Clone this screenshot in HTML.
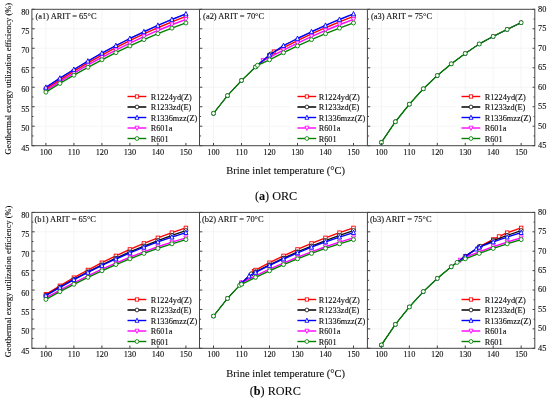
<!DOCTYPE html>
<html lang="en"><head><meta charset="utf-8"><title>Geothermal exergy utilization efficiency</title>
<style>html,body{margin:0;padding:0;background:#fff}svg{display:block}text{stroke:#0a0a0a;stroke-width:.1px}</style></head>
<body>
<svg width="550" height="401" viewBox="0 0 550 401" font-family="'Liberation Serif', 'Times New Roman', serif" font-size="8.3" fill="#0a0a0a">
<rect width="550" height="401" fill="#fff"/>
<path d="M45.90 9.3V145.7M73.90 9.3V145.7M101.90 9.3V145.7M129.90 9.3V145.7M157.90 9.3V145.7M185.90 9.3V145.7M31.90 126.21H199.90M31.90 106.73H199.90M31.90 87.24H199.90M31.90 67.76H199.90M31.90 48.27H199.90M31.90 28.79H199.90" stroke="#f4f4f4" stroke-width="0.9" fill="none"/>
<path d="M45.90 88.84L59.90 79.81L73.90 71.18L87.90 62.94L101.90 55.11L115.90 47.67L129.90 40.63L143.90 33.98L157.90 27.73L171.90 21.88L185.90 16.43" stroke="#ff0000" stroke-width="1.4" fill="none" stroke-linejoin="round"/>
<rect x="44.15" y="87.09" width="3.5" height="3.5" fill="#fff" stroke="#ff0000" stroke-width="0.9"/>
<rect x="58.15" y="78.06" width="3.5" height="3.5" fill="#fff" stroke="#ff0000" stroke-width="0.9"/>
<rect x="72.15" y="69.43" width="3.5" height="3.5" fill="#fff" stroke="#ff0000" stroke-width="0.9"/>
<rect x="86.15" y="61.19" width="3.5" height="3.5" fill="#fff" stroke="#ff0000" stroke-width="0.9"/>
<rect x="100.15" y="53.36" width="3.5" height="3.5" fill="#fff" stroke="#ff0000" stroke-width="0.9"/>
<rect x="114.15" y="45.92" width="3.5" height="3.5" fill="#fff" stroke="#ff0000" stroke-width="0.9"/>
<rect x="128.15" y="38.88" width="3.5" height="3.5" fill="#fff" stroke="#ff0000" stroke-width="0.9"/>
<rect x="142.15" y="32.23" width="3.5" height="3.5" fill="#fff" stroke="#ff0000" stroke-width="0.9"/>
<rect x="156.15" y="25.98" width="3.5" height="3.5" fill="#fff" stroke="#ff0000" stroke-width="0.9"/>
<rect x="170.15" y="20.13" width="3.5" height="3.5" fill="#fff" stroke="#ff0000" stroke-width="0.9"/>
<rect x="184.15" y="14.68" width="3.5" height="3.5" fill="#fff" stroke="#ff0000" stroke-width="0.9"/>
<path d="M45.90 87.36L59.90 78.21L73.90 69.47L87.90 61.13L101.90 53.18L115.90 45.64L129.90 38.50L143.90 31.76L157.90 25.42L171.90 19.48L185.90 13.94" stroke="#111" stroke-width="0.5" fill="none" stroke-linejoin="round"/>
<path d="M45.90 90.40L59.90 81.54L73.90 73.06L87.90 64.98L101.90 57.30L115.90 50.01L129.90 43.11L143.90 36.60L157.90 30.48L171.90 24.76L185.90 19.43" stroke="#ff00ff" stroke-width="1.4" fill="none" stroke-linejoin="round"/>
<path d="M45.90 92.90L47.95 88.50L43.85 88.50Z" fill="#fff" stroke="#ff00ff" stroke-width="0.9"/>
<path d="M59.90 84.04L61.95 79.64L57.85 79.64Z" fill="#fff" stroke="#ff00ff" stroke-width="0.9"/>
<path d="M73.90 75.56L75.95 71.16L71.85 71.16Z" fill="#fff" stroke="#ff00ff" stroke-width="0.9"/>
<path d="M87.90 67.48L89.95 63.08L85.85 63.08Z" fill="#fff" stroke="#ff00ff" stroke-width="0.9"/>
<path d="M101.90 59.80L103.95 55.40L99.85 55.40Z" fill="#fff" stroke="#ff00ff" stroke-width="0.9"/>
<path d="M115.90 52.51L117.95 48.11L113.85 48.11Z" fill="#fff" stroke="#ff00ff" stroke-width="0.9"/>
<path d="M129.90 45.61L131.95 41.21L127.85 41.21Z" fill="#fff" stroke="#ff00ff" stroke-width="0.9"/>
<path d="M143.90 39.10L145.95 34.70L141.85 34.70Z" fill="#fff" stroke="#ff00ff" stroke-width="0.9"/>
<path d="M157.90 32.98L159.95 28.58L155.85 28.58Z" fill="#fff" stroke="#ff00ff" stroke-width="0.9"/>
<path d="M171.90 27.26L173.95 22.86L169.85 22.86Z" fill="#fff" stroke="#ff00ff" stroke-width="0.9"/>
<path d="M185.90 21.93L187.95 17.53L183.85 17.53Z" fill="#fff" stroke="#ff00ff" stroke-width="0.9"/>
<path d="M45.90 87.36L59.90 78.21L73.90 69.47L87.90 61.13L101.90 53.18L115.90 45.64L129.90 38.50L143.90 31.76L157.90 25.42L171.90 19.48L185.90 13.94" stroke="#0000ff" stroke-width="1.4" fill="none" stroke-linejoin="round"/>
<path d="M45.90 84.86L47.95 89.26L43.85 89.26Z" fill="#fff" stroke="#0000ff" stroke-width="0.9"/>
<path d="M59.90 75.71L61.95 80.11L57.85 80.11Z" fill="#fff" stroke="#0000ff" stroke-width="0.9"/>
<path d="M73.90 66.97L75.95 71.37L71.85 71.37Z" fill="#fff" stroke="#0000ff" stroke-width="0.9"/>
<path d="M87.90 58.63L89.95 63.03L85.85 63.03Z" fill="#fff" stroke="#0000ff" stroke-width="0.9"/>
<path d="M101.90 50.68L103.95 55.08L99.85 55.08Z" fill="#fff" stroke="#0000ff" stroke-width="0.9"/>
<path d="M115.90 43.14L117.95 47.54L113.85 47.54Z" fill="#fff" stroke="#0000ff" stroke-width="0.9"/>
<path d="M129.90 36.00L131.95 40.40L127.85 40.40Z" fill="#fff" stroke="#0000ff" stroke-width="0.9"/>
<path d="M143.90 29.26L145.95 33.66L141.85 33.66Z" fill="#fff" stroke="#0000ff" stroke-width="0.9"/>
<path d="M157.90 22.92L159.95 27.32L155.85 27.32Z" fill="#fff" stroke="#0000ff" stroke-width="0.9"/>
<path d="M171.90 16.98L173.95 21.38L169.85 21.38Z" fill="#fff" stroke="#0000ff" stroke-width="0.9"/>
<path d="M185.90 11.44L187.95 15.84L183.85 15.84Z" fill="#fff" stroke="#0000ff" stroke-width="0.9"/>
<path d="M45.90 92.11L59.90 83.44L73.90 75.16L87.90 67.27L101.90 59.77L115.90 52.66L129.90 45.93L143.90 39.60L157.90 33.66L171.90 28.10L185.90 22.94" stroke="#008000" stroke-width="1.4" fill="none" stroke-linejoin="round"/>
<circle cx="45.90" cy="92.11" r="2.0" fill="#fff" stroke="#008000" stroke-width="0.9"/>
<circle cx="59.90" cy="83.44" r="2.0" fill="#fff" stroke="#008000" stroke-width="0.9"/>
<circle cx="73.90" cy="75.16" r="2.0" fill="#fff" stroke="#008000" stroke-width="0.9"/>
<circle cx="87.90" cy="67.27" r="2.0" fill="#fff" stroke="#008000" stroke-width="0.9"/>
<circle cx="101.90" cy="59.77" r="2.0" fill="#fff" stroke="#008000" stroke-width="0.9"/>
<circle cx="115.90" cy="52.66" r="2.0" fill="#fff" stroke="#008000" stroke-width="0.9"/>
<circle cx="129.90" cy="45.93" r="2.0" fill="#fff" stroke="#008000" stroke-width="0.9"/>
<circle cx="143.90" cy="39.60" r="2.0" fill="#fff" stroke="#008000" stroke-width="0.9"/>
<circle cx="157.90" cy="33.66" r="2.0" fill="#fff" stroke="#008000" stroke-width="0.9"/>
<circle cx="171.90" cy="28.10" r="2.0" fill="#fff" stroke="#008000" stroke-width="0.9"/>
<circle cx="185.90" cy="22.94" r="2.0" fill="#fff" stroke="#008000" stroke-width="0.9"/>
<rect x="122.50" y="90.50" width="76.30" height="53" fill="#fff"/>
<path d="M127.50 96.50H146.30" stroke="#ff0000" stroke-width="1.4"/>
<g transform="translate(137.00 96.50) scale(0.95)"><rect x="-1.75" y="-1.75" width="3.5" height="3.5" fill="#fff" stroke="#ff0000" stroke-width="0.9"/></g>
<text x="150.70" y="99.50">R1224yd(Z)</text>
<path d="M127.50 107.00H146.30" stroke="#111" stroke-width="1.5999999999999999"/>
<g transform="translate(137.00 107.00) scale(0.95)"><circle cx="0.00" cy="0.00" r="2.0" fill="#fff" stroke="#111" stroke-width="0.9"/></g>
<text x="150.70" y="110.00">R1233zd(E)</text>
<path d="M127.50 117.50H146.30" stroke="#0000ff" stroke-width="1.4"/>
<g transform="translate(137.00 117.50) scale(0.95)"><path d="M0.00 -2.50L2.05 1.90L-2.05 1.90Z" fill="#fff" stroke="#0000ff" stroke-width="0.9"/></g>
<text x="150.70" y="120.50">R1336mzz(Z)</text>
<path d="M127.50 128.00H146.30" stroke="#ff00ff" stroke-width="1.4"/>
<g transform="translate(137.00 128.00) scale(0.95)"><path d="M0.00 2.50L2.05 -1.90L-2.05 -1.90Z" fill="#fff" stroke="#ff00ff" stroke-width="0.9"/></g>
<text x="150.70" y="131.00">R601a</text>
<path d="M127.50 138.50H146.30" stroke="#008000" stroke-width="1.4"/>
<g transform="translate(137.00 138.50) scale(0.95)"><circle cx="0.00" cy="0.00" r="2.0" fill="#fff" stroke="#008000" stroke-width="0.9"/></g>
<text x="150.70" y="141.50">R601</text>
<text x="35.50" y="19.10" textLength="61" lengthAdjust="spacingAndGlyphs">(a1) ARIT = 65°C</text>
<path d="M31.90 145.70h2.8M31.90 135.96h1.6M31.90 126.21h2.8M31.90 116.47h1.6M31.90 106.73h2.8M31.90 96.99h1.6M31.90 87.24h2.8M31.90 77.50h1.6M31.90 67.76h2.8M31.90 58.01h1.6M31.90 48.27h2.8M31.90 38.53h1.6M31.90 28.79h2.8M31.90 19.04h1.6M31.90 9.30h2.8M45.90 145.7v-2.8M73.90 145.7v-2.8M101.90 145.7v-2.8M129.90 145.7v-2.8M157.90 145.7v-2.8M185.90 145.7v-2.8" stroke="#444" stroke-width="1" fill="none"/>
<text x="45.90" y="154.70" text-anchor="middle">100</text>
<text x="73.90" y="154.70" text-anchor="middle">110</text>
<text x="101.90" y="154.70" text-anchor="middle">120</text>
<text x="129.90" y="154.70" text-anchor="middle">130</text>
<text x="157.90" y="154.70" text-anchor="middle">140</text>
<text x="185.90" y="154.70" text-anchor="middle">150</text>
<path d="M213.50 9.3V145.7M241.50 9.3V145.7M269.50 9.3V145.7M297.50 9.3V145.7M325.50 9.3V145.7M353.50 9.3V145.7M199.50 126.21H367.50M199.50 106.73H367.50M199.50 87.24H367.50M199.50 67.76H367.50M199.50 48.27H367.50M199.50 28.79H367.50" stroke="#f4f4f4" stroke-width="0.9" fill="none"/>
<path d="M213.50 113.35L227.50 95.62L241.50 80.42L255.50 66.98L257.46 65.31" stroke="#ff0000" stroke-width="0.6" fill="none" stroke-linejoin="round"/>
<path d="M257.46 65.31L269.50 55.09L273.98 51.66L283.50 47.67L297.50 40.63L311.50 33.98L325.50 27.73L339.50 21.88L353.50 16.43" stroke="#ff0000" stroke-width="1.4" fill="none" stroke-linejoin="round"/>
<g transform="translate(213.50 113.35) scale(0.82)"><rect x="-1.75" y="-1.75" width="3.5" height="3.5" fill="#fff" stroke="#ff0000" stroke-width="0.9"/></g>
<g transform="translate(227.50 95.62) scale(0.82)"><rect x="-1.75" y="-1.75" width="3.5" height="3.5" fill="#fff" stroke="#ff0000" stroke-width="0.9"/></g>
<g transform="translate(241.50 80.42) scale(0.82)"><rect x="-1.75" y="-1.75" width="3.5" height="3.5" fill="#fff" stroke="#ff0000" stroke-width="0.9"/></g>
<g transform="translate(255.50 66.98) scale(0.82)"><rect x="-1.75" y="-1.75" width="3.5" height="3.5" fill="#fff" stroke="#ff0000" stroke-width="0.9"/></g>
<rect x="267.75" y="53.34" width="3.5" height="3.5" fill="#fff" stroke="#ff0000" stroke-width="0.9"/>
<rect x="272.23" y="49.91" width="3.5" height="3.5" fill="#fff" stroke="#ff0000" stroke-width="0.9"/>
<rect x="281.75" y="45.92" width="3.5" height="3.5" fill="#fff" stroke="#ff0000" stroke-width="0.9"/>
<rect x="295.75" y="38.88" width="3.5" height="3.5" fill="#fff" stroke="#ff0000" stroke-width="0.9"/>
<rect x="309.75" y="32.23" width="3.5" height="3.5" fill="#fff" stroke="#ff0000" stroke-width="0.9"/>
<rect x="323.75" y="25.98" width="3.5" height="3.5" fill="#fff" stroke="#ff0000" stroke-width="0.9"/>
<rect x="337.75" y="20.13" width="3.5" height="3.5" fill="#fff" stroke="#ff0000" stroke-width="0.9"/>
<rect x="351.75" y="14.68" width="3.5" height="3.5" fill="#fff" stroke="#ff0000" stroke-width="0.9"/>
<path d="M213.50 113.35L227.50 95.62L241.50 80.42L255.50 66.98L257.46 65.31" stroke="#111" stroke-width="0.6" fill="none" stroke-linejoin="round"/>
<path d="M257.46 65.31L269.50 55.09L270.90 54.02L283.50 45.64L297.50 38.50L311.50 31.76L325.50 25.42L339.50 19.48L353.50 13.94" stroke="#111" stroke-width="0.5" fill="none" stroke-linejoin="round"/>
<circle cx="269.50" cy="55.09" r="2.0" fill="#fff" stroke="#111" stroke-width="0.9"/>
<circle cx="270.90" cy="54.02" r="2.0" fill="#fff" stroke="#111" stroke-width="0.9"/>
<path d="M213.50 113.35L227.50 95.62L241.50 80.42L255.50 66.98L257.46 65.31" stroke="#ff00ff" stroke-width="0.6" fill="none" stroke-linejoin="round"/>
<path d="M257.46 65.31L263.06 60.56L269.50 57.30L283.50 50.01L297.50 43.11L311.50 36.60L325.50 30.48L339.50 24.76L353.50 19.43" stroke="#ff00ff" stroke-width="1.4" fill="none" stroke-linejoin="round"/>
<g transform="translate(213.50 113.35) scale(0.82)"><path d="M0.00 2.50L2.05 -1.90L-2.05 -1.90Z" fill="#fff" stroke="#ff00ff" stroke-width="0.9"/></g>
<g transform="translate(227.50 95.62) scale(0.82)"><path d="M0.00 2.50L2.05 -1.90L-2.05 -1.90Z" fill="#fff" stroke="#ff00ff" stroke-width="0.9"/></g>
<g transform="translate(241.50 80.42) scale(0.82)"><path d="M0.00 2.50L2.05 -1.90L-2.05 -1.90Z" fill="#fff" stroke="#ff00ff" stroke-width="0.9"/></g>
<g transform="translate(255.50 66.98) scale(0.82)"><path d="M0.00 2.50L2.05 -1.90L-2.05 -1.90Z" fill="#fff" stroke="#ff00ff" stroke-width="0.9"/></g>
<path d="M263.06 63.06L265.11 58.66L261.01 58.66Z" fill="#fff" stroke="#ff00ff" stroke-width="0.9"/>
<path d="M269.50 59.80L271.55 55.40L267.45 55.40Z" fill="#fff" stroke="#ff00ff" stroke-width="0.9"/>
<path d="M283.50 52.51L285.55 48.11L281.45 48.11Z" fill="#fff" stroke="#ff00ff" stroke-width="0.9"/>
<path d="M297.50 45.61L299.55 41.21L295.45 41.21Z" fill="#fff" stroke="#ff00ff" stroke-width="0.9"/>
<path d="M311.50 39.10L313.55 34.70L309.45 34.70Z" fill="#fff" stroke="#ff00ff" stroke-width="0.9"/>
<path d="M325.50 32.98L327.55 28.58L323.45 28.58Z" fill="#fff" stroke="#ff00ff" stroke-width="0.9"/>
<path d="M339.50 27.26L341.55 22.86L337.45 22.86Z" fill="#fff" stroke="#ff00ff" stroke-width="0.9"/>
<path d="M353.50 21.93L355.55 17.53L351.45 17.53Z" fill="#fff" stroke="#ff00ff" stroke-width="0.9"/>
<path d="M213.50 113.35L227.50 95.62L241.50 80.42L255.50 66.98L257.46 65.31" stroke="#0000ff" stroke-width="0.6" fill="none" stroke-linejoin="round"/>
<path d="M257.46 65.31L269.50 55.09L283.50 45.64L297.50 38.50L311.50 31.76L325.50 25.42L339.50 19.48L353.50 13.94" stroke="#0000ff" stroke-width="1.4" fill="none" stroke-linejoin="round"/>
<g transform="translate(213.50 113.35) scale(0.82)"><path d="M0.00 -2.50L2.05 1.90L-2.05 1.90Z" fill="#fff" stroke="#0000ff" stroke-width="0.9"/></g>
<g transform="translate(227.50 95.62) scale(0.82)"><path d="M0.00 -2.50L2.05 1.90L-2.05 1.90Z" fill="#fff" stroke="#0000ff" stroke-width="0.9"/></g>
<g transform="translate(241.50 80.42) scale(0.82)"><path d="M0.00 -2.50L2.05 1.90L-2.05 1.90Z" fill="#fff" stroke="#0000ff" stroke-width="0.9"/></g>
<g transform="translate(255.50 66.98) scale(0.82)"><path d="M0.00 -2.50L2.05 1.90L-2.05 1.90Z" fill="#fff" stroke="#0000ff" stroke-width="0.9"/></g>
<path d="M269.50 52.59L271.55 56.99L267.45 56.99Z" fill="#fff" stroke="#0000ff" stroke-width="0.9"/>
<path d="M283.50 43.14L285.55 47.54L281.45 47.54Z" fill="#fff" stroke="#0000ff" stroke-width="0.9"/>
<path d="M297.50 36.00L299.55 40.40L295.45 40.40Z" fill="#fff" stroke="#0000ff" stroke-width="0.9"/>
<path d="M311.50 29.26L313.55 33.66L309.45 33.66Z" fill="#fff" stroke="#0000ff" stroke-width="0.9"/>
<path d="M325.50 22.92L327.55 27.32L323.45 27.32Z" fill="#fff" stroke="#0000ff" stroke-width="0.9"/>
<path d="M339.50 16.98L341.55 21.38L337.45 21.38Z" fill="#fff" stroke="#0000ff" stroke-width="0.9"/>
<path d="M353.50 11.44L355.55 15.84L351.45 15.84Z" fill="#fff" stroke="#0000ff" stroke-width="0.9"/>
<path d="M213.50 113.35L227.50 95.62L241.50 80.42L255.50 66.98L257.46 65.31L269.50 59.77L283.50 52.66L297.50 45.93L311.50 39.60L325.50 33.66L339.50 28.10L353.50 22.94" stroke="#008000" stroke-width="1.4" fill="none" stroke-linejoin="round"/>
<circle cx="213.50" cy="113.35" r="2.0" fill="#fff" stroke="#008000" stroke-width="0.9"/>
<circle cx="227.50" cy="95.62" r="2.0" fill="#fff" stroke="#008000" stroke-width="0.9"/>
<circle cx="241.50" cy="80.42" r="2.0" fill="#fff" stroke="#008000" stroke-width="0.9"/>
<circle cx="255.50" cy="66.98" r="2.0" fill="#fff" stroke="#008000" stroke-width="0.9"/>
<circle cx="257.46" cy="65.31" r="2.0" fill="#fff" stroke="#008000" stroke-width="0.9"/>
<circle cx="269.50" cy="59.77" r="2.0" fill="#fff" stroke="#008000" stroke-width="0.9"/>
<circle cx="283.50" cy="52.66" r="2.0" fill="#fff" stroke="#008000" stroke-width="0.9"/>
<circle cx="297.50" cy="45.93" r="2.0" fill="#fff" stroke="#008000" stroke-width="0.9"/>
<circle cx="311.50" cy="39.60" r="2.0" fill="#fff" stroke="#008000" stroke-width="0.9"/>
<circle cx="325.50" cy="33.66" r="2.0" fill="#fff" stroke="#008000" stroke-width="0.9"/>
<circle cx="339.50" cy="28.10" r="2.0" fill="#fff" stroke="#008000" stroke-width="0.9"/>
<circle cx="353.50" cy="22.94" r="2.0" fill="#fff" stroke="#008000" stroke-width="0.9"/>
<rect x="290.50" y="90.50" width="76.20" height="53" fill="#fff"/>
<path d="M297.40 96.50H316.20" stroke="#ff0000" stroke-width="1.4"/>
<g transform="translate(306.90 96.50) scale(0.95)"><rect x="-1.75" y="-1.75" width="3.5" height="3.5" fill="#fff" stroke="#ff0000" stroke-width="0.9"/></g>
<text x="318.70" y="99.50">R1224yd(Z)</text>
<path d="M297.40 107.00H316.20" stroke="#111" stroke-width="1.5999999999999999"/>
<g transform="translate(306.90 107.00) scale(0.95)"><circle cx="0.00" cy="0.00" r="2.0" fill="#fff" stroke="#111" stroke-width="0.9"/></g>
<text x="318.70" y="110.00">R1233zd(E)</text>
<path d="M297.40 117.50H316.20" stroke="#0000ff" stroke-width="1.4"/>
<g transform="translate(306.90 117.50) scale(0.95)"><path d="M0.00 -2.50L2.05 1.90L-2.05 1.90Z" fill="#fff" stroke="#0000ff" stroke-width="0.9"/></g>
<text x="318.70" y="120.50">R1336mzz(Z)</text>
<path d="M297.40 128.00H316.20" stroke="#ff00ff" stroke-width="1.4"/>
<g transform="translate(306.90 128.00) scale(0.95)"><path d="M0.00 2.50L2.05 -1.90L-2.05 -1.90Z" fill="#fff" stroke="#ff00ff" stroke-width="0.9"/></g>
<text x="318.70" y="131.00">R601a</text>
<path d="M297.40 138.50H316.20" stroke="#008000" stroke-width="1.4"/>
<g transform="translate(306.90 138.50) scale(0.95)"><circle cx="0.00" cy="0.00" r="2.0" fill="#fff" stroke="#008000" stroke-width="0.9"/></g>
<text x="318.70" y="141.50">R601</text>
<text x="203.10" y="19.10" textLength="61" lengthAdjust="spacingAndGlyphs">(a2) ARIT = 70°C</text>
<path d="M199.50 145.70h2.8M199.50 135.96h1.6M199.50 126.21h2.8M199.50 116.47h1.6M199.50 106.73h2.8M199.50 96.99h1.6M199.50 87.24h2.8M199.50 77.50h1.6M199.50 67.76h2.8M199.50 58.01h1.6M199.50 48.27h2.8M199.50 38.53h1.6M199.50 28.79h2.8M199.50 19.04h1.6M199.50 9.30h2.8M213.50 145.7v-2.8M241.50 145.7v-2.8M269.50 145.7v-2.8M297.50 145.7v-2.8M325.50 145.7v-2.8M353.50 145.7v-2.8" stroke="#444" stroke-width="1" fill="none"/>
<text x="213.50" y="154.70" text-anchor="middle">100</text>
<text x="241.50" y="154.70" text-anchor="middle">110</text>
<text x="269.50" y="154.70" text-anchor="middle">120</text>
<text x="297.50" y="154.70" text-anchor="middle">130</text>
<text x="325.50" y="154.70" text-anchor="middle">140</text>
<text x="353.50" y="154.70" text-anchor="middle">150</text>
<path d="M381.40 9.3V145.7M409.35 9.3V145.7M437.30 9.3V145.7M465.25 9.3V145.7M493.20 9.3V145.7M521.15 9.3V145.7M367.42 126.21H534.80M367.42 106.73H534.80M367.42 87.24H534.80M367.42 67.76H534.80M367.42 48.27H534.80M367.42 28.79H534.80" stroke="#f4f4f4" stroke-width="0.9" fill="none"/>
<path d="M381.40 142.39L395.38 121.73L409.35 104.20L423.32 88.80L437.30 75.55L451.27 63.86L465.25 53.49L479.22 43.98L493.20 36.46L507.17 29.45L521.15 22.63" stroke="#ff0000" stroke-width="0.6" fill="none" stroke-linejoin="round"/>
<g transform="translate(381.40 142.39) scale(0.82)"><rect x="-1.75" y="-1.75" width="3.5" height="3.5" fill="#fff" stroke="#ff0000" stroke-width="0.9"/></g>
<g transform="translate(395.38 121.73) scale(0.82)"><rect x="-1.75" y="-1.75" width="3.5" height="3.5" fill="#fff" stroke="#ff0000" stroke-width="0.9"/></g>
<g transform="translate(409.35 104.20) scale(0.82)"><rect x="-1.75" y="-1.75" width="3.5" height="3.5" fill="#fff" stroke="#ff0000" stroke-width="0.9"/></g>
<g transform="translate(423.32 88.80) scale(0.82)"><rect x="-1.75" y="-1.75" width="3.5" height="3.5" fill="#fff" stroke="#ff0000" stroke-width="0.9"/></g>
<g transform="translate(437.30 75.55) scale(0.82)"><rect x="-1.75" y="-1.75" width="3.5" height="3.5" fill="#fff" stroke="#ff0000" stroke-width="0.9"/></g>
<g transform="translate(451.27 63.86) scale(0.82)"><rect x="-1.75" y="-1.75" width="3.5" height="3.5" fill="#fff" stroke="#ff0000" stroke-width="0.9"/></g>
<g transform="translate(465.25 53.49) scale(0.82)"><rect x="-1.75" y="-1.75" width="3.5" height="3.5" fill="#fff" stroke="#ff0000" stroke-width="0.9"/></g>
<g transform="translate(479.22 43.98) scale(0.82)"><rect x="-1.75" y="-1.75" width="3.5" height="3.5" fill="#fff" stroke="#ff0000" stroke-width="0.9"/></g>
<g transform="translate(493.20 36.46) scale(0.82)"><rect x="-1.75" y="-1.75" width="3.5" height="3.5" fill="#fff" stroke="#ff0000" stroke-width="0.9"/></g>
<g transform="translate(507.17 29.45) scale(0.82)"><rect x="-1.75" y="-1.75" width="3.5" height="3.5" fill="#fff" stroke="#ff0000" stroke-width="0.9"/></g>
<g transform="translate(521.15 22.63) scale(0.82)"><rect x="-1.75" y="-1.75" width="3.5" height="3.5" fill="#fff" stroke="#ff0000" stroke-width="0.9"/></g>
<path d="M381.40 142.39L395.38 121.73L409.35 104.20L423.32 88.80L437.30 75.55L451.27 63.86L465.25 53.49L479.22 43.98L493.20 36.46L507.17 29.45L521.15 22.63" stroke="#111" stroke-width="0.6" fill="none" stroke-linejoin="round"/>
<path d="M381.40 142.39L395.38 121.73L409.35 104.20L423.32 88.80L437.30 75.55L451.27 63.86L465.25 53.49L479.22 43.98L493.20 36.46L507.17 29.45L521.15 22.63" stroke="#ff00ff" stroke-width="0.6" fill="none" stroke-linejoin="round"/>
<g transform="translate(381.40 142.39) scale(0.82)"><path d="M0.00 2.50L2.05 -1.90L-2.05 -1.90Z" fill="#fff" stroke="#ff00ff" stroke-width="0.9"/></g>
<g transform="translate(395.38 121.73) scale(0.82)"><path d="M0.00 2.50L2.05 -1.90L-2.05 -1.90Z" fill="#fff" stroke="#ff00ff" stroke-width="0.9"/></g>
<g transform="translate(409.35 104.20) scale(0.82)"><path d="M0.00 2.50L2.05 -1.90L-2.05 -1.90Z" fill="#fff" stroke="#ff00ff" stroke-width="0.9"/></g>
<g transform="translate(423.32 88.80) scale(0.82)"><path d="M0.00 2.50L2.05 -1.90L-2.05 -1.90Z" fill="#fff" stroke="#ff00ff" stroke-width="0.9"/></g>
<g transform="translate(437.30 75.55) scale(0.82)"><path d="M0.00 2.50L2.05 -1.90L-2.05 -1.90Z" fill="#fff" stroke="#ff00ff" stroke-width="0.9"/></g>
<g transform="translate(451.27 63.86) scale(0.82)"><path d="M0.00 2.50L2.05 -1.90L-2.05 -1.90Z" fill="#fff" stroke="#ff00ff" stroke-width="0.9"/></g>
<g transform="translate(465.25 53.49) scale(0.82)"><path d="M0.00 2.50L2.05 -1.90L-2.05 -1.90Z" fill="#fff" stroke="#ff00ff" stroke-width="0.9"/></g>
<g transform="translate(479.22 43.98) scale(0.82)"><path d="M0.00 2.50L2.05 -1.90L-2.05 -1.90Z" fill="#fff" stroke="#ff00ff" stroke-width="0.9"/></g>
<g transform="translate(493.20 36.46) scale(0.82)"><path d="M0.00 2.50L2.05 -1.90L-2.05 -1.90Z" fill="#fff" stroke="#ff00ff" stroke-width="0.9"/></g>
<g transform="translate(507.17 29.45) scale(0.82)"><path d="M0.00 2.50L2.05 -1.90L-2.05 -1.90Z" fill="#fff" stroke="#ff00ff" stroke-width="0.9"/></g>
<g transform="translate(521.15 22.63) scale(0.82)"><path d="M0.00 2.50L2.05 -1.90L-2.05 -1.90Z" fill="#fff" stroke="#ff00ff" stroke-width="0.9"/></g>
<path d="M381.40 142.39L395.38 121.73L409.35 104.20L423.32 88.80L437.30 75.55L451.27 63.86L465.25 53.49L479.22 43.98L493.20 36.46L507.17 29.45L521.15 22.63" stroke="#0000ff" stroke-width="0.6" fill="none" stroke-linejoin="round"/>
<g transform="translate(381.40 142.39) scale(0.82)"><path d="M0.00 -2.50L2.05 1.90L-2.05 1.90Z" fill="#fff" stroke="#0000ff" stroke-width="0.9"/></g>
<g transform="translate(395.38 121.73) scale(0.82)"><path d="M0.00 -2.50L2.05 1.90L-2.05 1.90Z" fill="#fff" stroke="#0000ff" stroke-width="0.9"/></g>
<g transform="translate(409.35 104.20) scale(0.82)"><path d="M0.00 -2.50L2.05 1.90L-2.05 1.90Z" fill="#fff" stroke="#0000ff" stroke-width="0.9"/></g>
<g transform="translate(423.32 88.80) scale(0.82)"><path d="M0.00 -2.50L2.05 1.90L-2.05 1.90Z" fill="#fff" stroke="#0000ff" stroke-width="0.9"/></g>
<g transform="translate(437.30 75.55) scale(0.82)"><path d="M0.00 -2.50L2.05 1.90L-2.05 1.90Z" fill="#fff" stroke="#0000ff" stroke-width="0.9"/></g>
<g transform="translate(451.27 63.86) scale(0.82)"><path d="M0.00 -2.50L2.05 1.90L-2.05 1.90Z" fill="#fff" stroke="#0000ff" stroke-width="0.9"/></g>
<g transform="translate(465.25 53.49) scale(0.82)"><path d="M0.00 -2.50L2.05 1.90L-2.05 1.90Z" fill="#fff" stroke="#0000ff" stroke-width="0.9"/></g>
<g transform="translate(479.22 43.98) scale(0.82)"><path d="M0.00 -2.50L2.05 1.90L-2.05 1.90Z" fill="#fff" stroke="#0000ff" stroke-width="0.9"/></g>
<g transform="translate(493.20 36.46) scale(0.82)"><path d="M0.00 -2.50L2.05 1.90L-2.05 1.90Z" fill="#fff" stroke="#0000ff" stroke-width="0.9"/></g>
<g transform="translate(507.17 29.45) scale(0.82)"><path d="M0.00 -2.50L2.05 1.90L-2.05 1.90Z" fill="#fff" stroke="#0000ff" stroke-width="0.9"/></g>
<g transform="translate(521.15 22.63) scale(0.82)"><path d="M0.00 -2.50L2.05 1.90L-2.05 1.90Z" fill="#fff" stroke="#0000ff" stroke-width="0.9"/></g>
<path d="M381.40 142.39L395.38 121.73L409.35 104.20L423.32 88.80L437.30 75.55L451.27 63.86L465.25 53.49L479.22 43.98L493.20 36.46L507.17 29.45L521.15 22.63" stroke="#008000" stroke-width="1.4" fill="none" stroke-linejoin="round"/>
<circle cx="381.40" cy="142.39" r="2.0" fill="#fff" stroke="#008000" stroke-width="0.9"/>
<circle cx="395.38" cy="121.73" r="2.0" fill="#fff" stroke="#008000" stroke-width="0.9"/>
<circle cx="409.35" cy="104.20" r="2.0" fill="#fff" stroke="#008000" stroke-width="0.9"/>
<circle cx="423.32" cy="88.80" r="2.0" fill="#fff" stroke="#008000" stroke-width="0.9"/>
<circle cx="437.30" cy="75.55" r="2.0" fill="#fff" stroke="#008000" stroke-width="0.9"/>
<circle cx="451.27" cy="63.86" r="2.0" fill="#fff" stroke="#008000" stroke-width="0.9"/>
<circle cx="465.25" cy="53.49" r="2.0" fill="#fff" stroke="#008000" stroke-width="0.9"/>
<circle cx="479.22" cy="43.98" r="2.0" fill="#fff" stroke="#008000" stroke-width="0.9"/>
<circle cx="493.20" cy="36.46" r="2.0" fill="#fff" stroke="#008000" stroke-width="0.9"/>
<circle cx="507.17" cy="29.45" r="2.0" fill="#fff" stroke="#008000" stroke-width="0.9"/>
<circle cx="521.15" cy="22.63" r="2.0" fill="#fff" stroke="#008000" stroke-width="0.9"/>
<rect x="456.50" y="90.50" width="76.30" height="53" fill="#fff"/>
<path d="M461.50 96.50H480.30" stroke="#ff0000" stroke-width="1.4"/>
<g transform="translate(471.00 96.50) scale(0.95)"><rect x="-1.75" y="-1.75" width="3.5" height="3.5" fill="#fff" stroke="#ff0000" stroke-width="0.9"/></g>
<text x="484.70" y="99.50">R1224yd(Z)</text>
<path d="M461.50 107.00H480.30" stroke="#111" stroke-width="1.5999999999999999"/>
<g transform="translate(471.00 107.00) scale(0.95)"><circle cx="0.00" cy="0.00" r="2.0" fill="#fff" stroke="#111" stroke-width="0.9"/></g>
<text x="484.70" y="110.00">R1233zd(E)</text>
<path d="M461.50 117.50H480.30" stroke="#0000ff" stroke-width="1.4"/>
<g transform="translate(471.00 117.50) scale(0.95)"><path d="M0.00 -2.50L2.05 1.90L-2.05 1.90Z" fill="#fff" stroke="#0000ff" stroke-width="0.9"/></g>
<text x="484.70" y="120.50">R1336mzz(Z)</text>
<path d="M461.50 128.00H480.30" stroke="#ff00ff" stroke-width="1.4"/>
<g transform="translate(471.00 128.00) scale(0.95)"><path d="M0.00 2.50L2.05 -1.90L-2.05 -1.90Z" fill="#fff" stroke="#ff00ff" stroke-width="0.9"/></g>
<text x="484.70" y="131.00">R601a</text>
<path d="M461.50 138.50H480.30" stroke="#008000" stroke-width="1.4"/>
<g transform="translate(471.00 138.50) scale(0.95)"><circle cx="0.00" cy="0.00" r="2.0" fill="#fff" stroke="#008000" stroke-width="0.9"/></g>
<text x="484.70" y="141.50">R601</text>
<text x="371.02" y="19.10" textLength="61" lengthAdjust="spacingAndGlyphs">(a3) ARIT = 75°C</text>
<path d="M367.42 145.70h2.8M534.80 145.70h-2.2399999999999998M367.42 135.96h1.6M534.80 135.96h-1.2800000000000002M367.42 126.21h2.8M534.80 126.21h-2.2399999999999998M367.42 116.47h1.6M534.80 116.47h-1.2800000000000002M367.42 106.73h2.8M534.80 106.73h-2.2399999999999998M367.42 96.99h1.6M534.80 96.99h-1.2800000000000002M367.42 87.24h2.8M534.80 87.24h-2.2399999999999998M367.42 77.50h1.6M534.80 77.50h-1.2800000000000002M367.42 67.76h2.8M534.80 67.76h-2.2399999999999998M367.42 58.01h1.6M534.80 58.01h-1.2800000000000002M367.42 48.27h2.8M534.80 48.27h-2.2399999999999998M367.42 38.53h1.6M534.80 38.53h-1.2800000000000002M367.42 28.79h2.8M534.80 28.79h-2.2399999999999998M367.42 19.04h1.6M534.80 19.04h-1.2800000000000002M367.42 9.30h2.8M534.80 9.30h-2.2399999999999998M381.40 145.7v-2.8M409.35 145.7v-2.8M437.30 145.7v-2.8M465.25 145.7v-2.8M493.20 145.7v-2.8M521.15 145.7v-2.8" stroke="#444" stroke-width="1" fill="none"/>
<text x="381.40" y="154.70" text-anchor="middle">100</text>
<text x="409.35" y="154.70" text-anchor="middle">110</text>
<text x="437.30" y="154.70" text-anchor="middle">120</text>
<text x="465.25" y="154.70" text-anchor="middle">130</text>
<text x="493.20" y="154.70" text-anchor="middle">140</text>
<text x="521.15" y="154.70" text-anchor="middle">150</text>
<rect x="31.90" y="9.3" width="502.90" height="136.40" fill="none" stroke="#444" stroke-width="1.0"/>
<path d="M199.50 9.3V145.7M367.42 9.3V145.7" stroke="#444" stroke-width="1.0"/>
<text  x="29.50" y="150.90" text-anchor="end">45</text>
<text x="538.00" y="148.05">45</text>
<text  x="29.50" y="131.41" text-anchor="end">50</text>
<text x="538.00" y="128.56">50</text>
<text  x="29.50" y="111.93" text-anchor="end">55</text>
<text x="538.00" y="109.08">55</text>
<text  x="29.50" y="92.44" text-anchor="end">60</text>
<text x="538.00" y="89.59">60</text>
<text  x="29.50" y="72.96" text-anchor="end">65</text>
<text x="538.00" y="70.11">65</text>
<text  x="29.50" y="53.47" text-anchor="end">70</text>
<text x="538.00" y="50.62">70</text>
<text  x="29.50" y="33.99" text-anchor="end">75</text>
<text x="538.00" y="31.14">75</text>
<text  x="29.50" y="14.50" text-anchor="end">80</text>
<text x="538.00" y="11.65">80</text>
<text transform="translate(10.8 154.50) rotate(-90)" textLength="151.5" lengthAdjust="spacing">Geothermal exergy utilization efficiency (%)</text>
<text x="226.2" y="174.20" font-size="10.5" textLength="118.8" lengthAdjust="spacing">Brine inlet temperature (°C)</text>
<path d="M45.90 212.4V348.3M73.90 212.4V348.3M101.90 212.4V348.3M129.90 212.4V348.3M157.90 212.4V348.3M185.90 212.4V348.3M31.90 328.89H199.90M31.90 309.47H199.90M31.90 290.06H199.90M31.90 270.64H199.90M31.90 251.23H199.90M31.90 231.81H199.90" stroke="#f4f4f4" stroke-width="0.9" fill="none"/>
<path d="M45.90 294.33L59.90 285.80L73.90 277.69L87.90 270.01L101.90 262.74L115.90 255.89L129.90 249.46L143.90 243.45L157.90 237.86L171.90 232.68L185.90 227.93" stroke="#ff0000" stroke-width="1.4" fill="none" stroke-linejoin="round"/>
<rect x="44.15" y="292.58" width="3.5" height="3.5" fill="#fff" stroke="#ff0000" stroke-width="0.9"/>
<rect x="58.15" y="284.05" width="3.5" height="3.5" fill="#fff" stroke="#ff0000" stroke-width="0.9"/>
<rect x="72.15" y="275.94" width="3.5" height="3.5" fill="#fff" stroke="#ff0000" stroke-width="0.9"/>
<rect x="86.15" y="268.26" width="3.5" height="3.5" fill="#fff" stroke="#ff0000" stroke-width="0.9"/>
<rect x="100.15" y="260.99" width="3.5" height="3.5" fill="#fff" stroke="#ff0000" stroke-width="0.9"/>
<rect x="114.15" y="254.14" width="3.5" height="3.5" fill="#fff" stroke="#ff0000" stroke-width="0.9"/>
<rect x="128.15" y="247.71" width="3.5" height="3.5" fill="#fff" stroke="#ff0000" stroke-width="0.9"/>
<rect x="142.15" y="241.70" width="3.5" height="3.5" fill="#fff" stroke="#ff0000" stroke-width="0.9"/>
<rect x="156.15" y="236.11" width="3.5" height="3.5" fill="#fff" stroke="#ff0000" stroke-width="0.9"/>
<rect x="170.15" y="230.93" width="3.5" height="3.5" fill="#fff" stroke="#ff0000" stroke-width="0.9"/>
<rect x="184.15" y="226.18" width="3.5" height="3.5" fill="#fff" stroke="#ff0000" stroke-width="0.9"/>
<path d="M45.90 295.30L59.90 287.12L73.90 279.32L87.90 271.91L101.90 264.87L115.90 258.22L129.90 251.94L143.90 246.05L157.90 240.54L171.90 235.40L185.90 230.65" stroke="#111" stroke-width="1.4" fill="none" stroke-linejoin="round"/>
<circle cx="45.90" cy="295.30" r="2.0" fill="#fff" stroke="#111" stroke-width="0.9"/>
<circle cx="59.90" cy="287.12" r="2.0" fill="#fff" stroke="#111" stroke-width="0.9"/>
<circle cx="73.90" cy="279.32" r="2.0" fill="#fff" stroke="#111" stroke-width="0.9"/>
<circle cx="87.90" cy="271.91" r="2.0" fill="#fff" stroke="#111" stroke-width="0.9"/>
<circle cx="101.90" cy="264.87" r="2.0" fill="#fff" stroke="#111" stroke-width="0.9"/>
<circle cx="115.90" cy="258.22" r="2.0" fill="#fff" stroke="#111" stroke-width="0.9"/>
<circle cx="129.90" cy="251.94" r="2.0" fill="#fff" stroke="#111" stroke-width="0.9"/>
<circle cx="143.90" cy="246.05" r="2.0" fill="#fff" stroke="#111" stroke-width="0.9"/>
<circle cx="157.90" cy="240.54" r="2.0" fill="#fff" stroke="#111" stroke-width="0.9"/>
<circle cx="171.90" cy="235.40" r="2.0" fill="#fff" stroke="#111" stroke-width="0.9"/>
<circle cx="185.90" cy="230.65" r="2.0" fill="#fff" stroke="#111" stroke-width="0.9"/>
<path d="M45.90 297.82L59.90 290.10L73.90 282.76L87.90 275.80L101.90 269.22L115.90 263.03L129.90 257.23L143.90 251.80L157.90 246.76L171.90 242.11L185.90 237.83" stroke="#ff00ff" stroke-width="1.4" fill="none" stroke-linejoin="round"/>
<path d="M45.90 300.32L47.95 295.92L43.85 295.92Z" fill="#fff" stroke="#ff00ff" stroke-width="0.9"/>
<path d="M59.90 292.60L61.95 288.20L57.85 288.20Z" fill="#fff" stroke="#ff00ff" stroke-width="0.9"/>
<path d="M73.90 285.26L75.95 280.86L71.85 280.86Z" fill="#fff" stroke="#ff00ff" stroke-width="0.9"/>
<path d="M87.90 278.30L89.95 273.90L85.85 273.90Z" fill="#fff" stroke="#ff00ff" stroke-width="0.9"/>
<path d="M101.90 271.72L103.95 267.32L99.85 267.32Z" fill="#fff" stroke="#ff00ff" stroke-width="0.9"/>
<path d="M115.90 265.53L117.95 261.13L113.85 261.13Z" fill="#fff" stroke="#ff00ff" stroke-width="0.9"/>
<path d="M129.90 259.73L131.95 255.33L127.85 255.33Z" fill="#fff" stroke="#ff00ff" stroke-width="0.9"/>
<path d="M143.90 254.30L145.95 249.90L141.85 249.90Z" fill="#fff" stroke="#ff00ff" stroke-width="0.9"/>
<path d="M157.90 249.26L159.95 244.86L155.85 244.86Z" fill="#fff" stroke="#ff00ff" stroke-width="0.9"/>
<path d="M171.90 244.61L173.95 240.21L169.85 240.21Z" fill="#fff" stroke="#ff00ff" stroke-width="0.9"/>
<path d="M185.90 240.33L187.95 235.93L183.85 235.93Z" fill="#fff" stroke="#ff00ff" stroke-width="0.9"/>
<path d="M45.90 295.49L59.90 287.39L73.90 279.68L87.90 272.38L101.90 265.49L115.90 258.99L129.90 252.91L143.90 247.22L157.90 241.94L171.90 237.06L185.90 232.59" stroke="#0000ff" stroke-width="1.4" fill="none" stroke-linejoin="round"/>
<path d="M45.90 292.99L47.95 297.39L43.85 297.39Z" fill="#fff" stroke="#0000ff" stroke-width="0.9"/>
<path d="M59.90 284.89L61.95 289.29L57.85 289.29Z" fill="#fff" stroke="#0000ff" stroke-width="0.9"/>
<path d="M73.90 277.18L75.95 281.58L71.85 281.58Z" fill="#fff" stroke="#0000ff" stroke-width="0.9"/>
<path d="M87.90 269.88L89.95 274.28L85.85 274.28Z" fill="#fff" stroke="#0000ff" stroke-width="0.9"/>
<path d="M101.90 262.99L103.95 267.39L99.85 267.39Z" fill="#fff" stroke="#0000ff" stroke-width="0.9"/>
<path d="M115.90 256.49L117.95 260.89L113.85 260.89Z" fill="#fff" stroke="#0000ff" stroke-width="0.9"/>
<path d="M129.90 250.41L131.95 254.81L127.85 254.81Z" fill="#fff" stroke="#0000ff" stroke-width="0.9"/>
<path d="M143.90 244.72L145.95 249.12L141.85 249.12Z" fill="#fff" stroke="#0000ff" stroke-width="0.9"/>
<path d="M157.90 239.44L159.95 243.84L155.85 243.84Z" fill="#fff" stroke="#0000ff" stroke-width="0.9"/>
<path d="M171.90 234.56L173.95 238.96L169.85 238.96Z" fill="#fff" stroke="#0000ff" stroke-width="0.9"/>
<path d="M185.90 230.09L187.95 234.49L183.85 234.49Z" fill="#fff" stroke="#0000ff" stroke-width="0.9"/>
<path d="M45.90 299.38L59.90 291.64L73.90 284.29L87.90 277.33L101.90 270.76L115.90 264.59L129.90 258.80L143.90 253.41L157.90 248.41L171.90 243.80L185.90 239.58" stroke="#008000" stroke-width="1.4" fill="none" stroke-linejoin="round"/>
<circle cx="45.90" cy="299.38" r="2.0" fill="#fff" stroke="#008000" stroke-width="0.9"/>
<circle cx="59.90" cy="291.64" r="2.0" fill="#fff" stroke="#008000" stroke-width="0.9"/>
<circle cx="73.90" cy="284.29" r="2.0" fill="#fff" stroke="#008000" stroke-width="0.9"/>
<circle cx="87.90" cy="277.33" r="2.0" fill="#fff" stroke="#008000" stroke-width="0.9"/>
<circle cx="101.90" cy="270.76" r="2.0" fill="#fff" stroke="#008000" stroke-width="0.9"/>
<circle cx="115.90" cy="264.59" r="2.0" fill="#fff" stroke="#008000" stroke-width="0.9"/>
<circle cx="129.90" cy="258.80" r="2.0" fill="#fff" stroke="#008000" stroke-width="0.9"/>
<circle cx="143.90" cy="253.41" r="2.0" fill="#fff" stroke="#008000" stroke-width="0.9"/>
<circle cx="157.90" cy="248.41" r="2.0" fill="#fff" stroke="#008000" stroke-width="0.9"/>
<circle cx="171.90" cy="243.80" r="2.0" fill="#fff" stroke="#008000" stroke-width="0.9"/>
<circle cx="185.90" cy="239.58" r="2.0" fill="#fff" stroke="#008000" stroke-width="0.9"/>
<rect x="122.50" y="293.50" width="76.30" height="53" fill="#fff"/>
<path d="M127.50 299.50H146.30" stroke="#ff0000" stroke-width="1.4"/>
<g transform="translate(137.00 299.50) scale(0.95)"><rect x="-1.75" y="-1.75" width="3.5" height="3.5" fill="#fff" stroke="#ff0000" stroke-width="0.9"/></g>
<text x="150.70" y="302.50">R1224yd(Z)</text>
<path d="M127.50 310.00H146.30" stroke="#111" stroke-width="1.5999999999999999"/>
<g transform="translate(137.00 310.00) scale(0.95)"><circle cx="0.00" cy="0.00" r="2.0" fill="#fff" stroke="#111" stroke-width="0.9"/></g>
<text x="150.70" y="313.00">R1233zd(E)</text>
<path d="M127.50 320.50H146.30" stroke="#0000ff" stroke-width="1.4"/>
<g transform="translate(137.00 320.50) scale(0.95)"><path d="M0.00 -2.50L2.05 1.90L-2.05 1.90Z" fill="#fff" stroke="#0000ff" stroke-width="0.9"/></g>
<text x="150.70" y="323.50">R1336mzz(Z)</text>
<path d="M127.50 331.00H146.30" stroke="#ff00ff" stroke-width="1.4"/>
<g transform="translate(137.00 331.00) scale(0.95)"><path d="M0.00 2.50L2.05 -1.90L-2.05 -1.90Z" fill="#fff" stroke="#ff00ff" stroke-width="0.9"/></g>
<text x="150.70" y="334.00">R601a</text>
<path d="M127.50 341.50H146.30" stroke="#008000" stroke-width="1.4"/>
<g transform="translate(137.00 341.50) scale(0.95)"><circle cx="0.00" cy="0.00" r="2.0" fill="#fff" stroke="#008000" stroke-width="0.9"/></g>
<text x="150.70" y="344.50">R601</text>
<text x="34.40" y="222.20" textLength="61.6" lengthAdjust="spacingAndGlyphs">(b1) ARIT = 65°C</text>
<path d="M31.90 348.30h2.8M31.90 338.59h1.6M31.90 328.89h2.8M31.90 319.18h1.6M31.90 309.47h2.8M31.90 299.76h1.6M31.90 290.06h2.8M31.90 280.35h1.6M31.90 270.64h2.8M31.90 260.94h1.6M31.90 251.23h2.8M31.90 241.52h1.6M31.90 231.81h2.8M31.90 222.11h1.6M31.90 212.40h2.8M45.90 348.3v-2.8M73.90 348.3v-2.8M101.90 348.3v-2.8M129.90 348.3v-2.8M157.90 348.3v-2.8M185.90 348.3v-2.8" stroke="#444" stroke-width="1" fill="none"/>
<text x="45.90" y="357.30" text-anchor="middle">100</text>
<text x="73.90" y="357.30" text-anchor="middle">110</text>
<text x="101.90" y="357.30" text-anchor="middle">120</text>
<text x="129.90" y="357.30" text-anchor="middle">130</text>
<text x="157.90" y="357.30" text-anchor="middle">140</text>
<text x="185.90" y="357.30" text-anchor="middle">150</text>
<path d="M213.50 212.4V348.3M241.50 212.4V348.3M269.50 212.4V348.3M297.50 212.4V348.3M325.50 212.4V348.3M353.50 212.4V348.3M199.50 328.89H367.50M199.50 309.47H367.50M199.50 290.06H367.50M199.50 270.64H367.50M199.50 251.23H367.50M199.50 231.81H367.50" stroke="#f4f4f4" stroke-width="0.9" fill="none"/>
<path d="M213.50 316.07L227.50 298.41L239.54 285.38" stroke="#ff0000" stroke-width="0.6" fill="none" stroke-linejoin="round"/>
<path d="M239.54 285.38L241.50 283.26L254.10 271.21L255.50 270.01L269.50 262.74L283.50 255.89L297.50 249.46L311.50 243.45L325.50 237.86L339.50 232.68L353.50 227.93" stroke="#ff0000" stroke-width="1.4" fill="none" stroke-linejoin="round"/>
<g transform="translate(213.50 316.07) scale(0.82)"><rect x="-1.75" y="-1.75" width="3.5" height="3.5" fill="#fff" stroke="#ff0000" stroke-width="0.9"/></g>
<g transform="translate(227.50 298.41) scale(0.82)"><rect x="-1.75" y="-1.75" width="3.5" height="3.5" fill="#fff" stroke="#ff0000" stroke-width="0.9"/></g>
<rect x="239.75" y="281.51" width="3.5" height="3.5" fill="#fff" stroke="#ff0000" stroke-width="0.9"/>
<rect x="252.35" y="269.46" width="3.5" height="3.5" fill="#fff" stroke="#ff0000" stroke-width="0.9"/>
<rect x="253.75" y="268.26" width="3.5" height="3.5" fill="#fff" stroke="#ff0000" stroke-width="0.9"/>
<rect x="267.75" y="260.99" width="3.5" height="3.5" fill="#fff" stroke="#ff0000" stroke-width="0.9"/>
<rect x="281.75" y="254.14" width="3.5" height="3.5" fill="#fff" stroke="#ff0000" stroke-width="0.9"/>
<rect x="295.75" y="247.71" width="3.5" height="3.5" fill="#fff" stroke="#ff0000" stroke-width="0.9"/>
<rect x="309.75" y="241.70" width="3.5" height="3.5" fill="#fff" stroke="#ff0000" stroke-width="0.9"/>
<rect x="323.75" y="236.11" width="3.5" height="3.5" fill="#fff" stroke="#ff0000" stroke-width="0.9"/>
<rect x="337.75" y="230.93" width="3.5" height="3.5" fill="#fff" stroke="#ff0000" stroke-width="0.9"/>
<rect x="351.75" y="226.18" width="3.5" height="3.5" fill="#fff" stroke="#ff0000" stroke-width="0.9"/>
<path d="M213.50 316.07L227.50 298.41L239.54 285.38" stroke="#111" stroke-width="0.6" fill="none" stroke-linejoin="round"/>
<path d="M239.54 285.38L241.50 283.26L251.30 273.89L255.50 271.91L269.50 264.87L283.50 258.22L297.50 251.94L311.50 246.05L325.50 240.54L339.50 235.40L353.50 230.65" stroke="#111" stroke-width="1.4" fill="none" stroke-linejoin="round"/>
<circle cx="241.50" cy="283.26" r="2.0" fill="#fff" stroke="#111" stroke-width="0.9"/>
<circle cx="251.30" cy="273.89" r="2.0" fill="#fff" stroke="#111" stroke-width="0.9"/>
<circle cx="255.50" cy="271.91" r="2.0" fill="#fff" stroke="#111" stroke-width="0.9"/>
<circle cx="269.50" cy="264.87" r="2.0" fill="#fff" stroke="#111" stroke-width="0.9"/>
<circle cx="283.50" cy="258.22" r="2.0" fill="#fff" stroke="#111" stroke-width="0.9"/>
<circle cx="297.50" cy="251.94" r="2.0" fill="#fff" stroke="#111" stroke-width="0.9"/>
<circle cx="311.50" cy="246.05" r="2.0" fill="#fff" stroke="#111" stroke-width="0.9"/>
<circle cx="325.50" cy="240.54" r="2.0" fill="#fff" stroke="#111" stroke-width="0.9"/>
<circle cx="339.50" cy="235.40" r="2.0" fill="#fff" stroke="#111" stroke-width="0.9"/>
<circle cx="353.50" cy="230.65" r="2.0" fill="#fff" stroke="#111" stroke-width="0.9"/>
<path d="M213.50 316.07L227.50 298.41L239.54 285.38" stroke="#ff00ff" stroke-width="0.6" fill="none" stroke-linejoin="round"/>
<path d="M239.54 285.38L241.50 282.76L255.50 275.80L269.50 269.22L283.50 263.03L297.50 257.23L311.50 251.80L325.50 246.76L339.50 242.11L353.50 237.83" stroke="#ff00ff" stroke-width="1.4" fill="none" stroke-linejoin="round"/>
<g transform="translate(213.50 316.07) scale(0.82)"><path d="M0.00 2.50L2.05 -1.90L-2.05 -1.90Z" fill="#fff" stroke="#ff00ff" stroke-width="0.9"/></g>
<g transform="translate(227.50 298.41) scale(0.82)"><path d="M0.00 2.50L2.05 -1.90L-2.05 -1.90Z" fill="#fff" stroke="#ff00ff" stroke-width="0.9"/></g>
<path d="M241.50 285.26L243.55 280.86L239.45 280.86Z" fill="#fff" stroke="#ff00ff" stroke-width="0.9"/>
<path d="M255.50 278.30L257.55 273.90L253.45 273.90Z" fill="#fff" stroke="#ff00ff" stroke-width="0.9"/>
<path d="M269.50 271.72L271.55 267.32L267.45 267.32Z" fill="#fff" stroke="#ff00ff" stroke-width="0.9"/>
<path d="M283.50 265.53L285.55 261.13L281.45 261.13Z" fill="#fff" stroke="#ff00ff" stroke-width="0.9"/>
<path d="M297.50 259.73L299.55 255.33L295.45 255.33Z" fill="#fff" stroke="#ff00ff" stroke-width="0.9"/>
<path d="M311.50 254.30L313.55 249.90L309.45 249.90Z" fill="#fff" stroke="#ff00ff" stroke-width="0.9"/>
<path d="M325.50 249.26L327.55 244.86L323.45 244.86Z" fill="#fff" stroke="#ff00ff" stroke-width="0.9"/>
<path d="M339.50 244.61L341.55 240.21L337.45 240.21Z" fill="#fff" stroke="#ff00ff" stroke-width="0.9"/>
<path d="M353.50 240.33L355.55 235.93L351.45 235.93Z" fill="#fff" stroke="#ff00ff" stroke-width="0.9"/>
<path d="M213.50 316.07L227.50 298.41L239.54 285.38" stroke="#0000ff" stroke-width="0.6" fill="none" stroke-linejoin="round"/>
<path d="M239.54 285.38L241.50 283.26L249.06 276.03L255.50 272.38L269.50 265.49L283.50 258.99L297.50 252.91L311.50 247.22L325.50 241.94L339.50 237.06L353.50 232.59" stroke="#0000ff" stroke-width="1.4" fill="none" stroke-linejoin="round"/>
<g transform="translate(213.50 316.07) scale(0.82)"><path d="M0.00 -2.50L2.05 1.90L-2.05 1.90Z" fill="#fff" stroke="#0000ff" stroke-width="0.9"/></g>
<g transform="translate(227.50 298.41) scale(0.82)"><path d="M0.00 -2.50L2.05 1.90L-2.05 1.90Z" fill="#fff" stroke="#0000ff" stroke-width="0.9"/></g>
<path d="M241.50 280.76L243.55 285.16L239.45 285.16Z" fill="#fff" stroke="#0000ff" stroke-width="0.9"/>
<path d="M249.06 273.53L251.11 277.93L247.01 277.93Z" fill="#fff" stroke="#0000ff" stroke-width="0.9"/>
<path d="M255.50 269.88L257.55 274.28L253.45 274.28Z" fill="#fff" stroke="#0000ff" stroke-width="0.9"/>
<path d="M269.50 262.99L271.55 267.39L267.45 267.39Z" fill="#fff" stroke="#0000ff" stroke-width="0.9"/>
<path d="M283.50 256.49L285.55 260.89L281.45 260.89Z" fill="#fff" stroke="#0000ff" stroke-width="0.9"/>
<path d="M297.50 250.41L299.55 254.81L295.45 254.81Z" fill="#fff" stroke="#0000ff" stroke-width="0.9"/>
<path d="M311.50 244.72L313.55 249.12L309.45 249.12Z" fill="#fff" stroke="#0000ff" stroke-width="0.9"/>
<path d="M325.50 239.44L327.55 243.84L323.45 243.84Z" fill="#fff" stroke="#0000ff" stroke-width="0.9"/>
<path d="M339.50 234.56L341.55 238.96L337.45 238.96Z" fill="#fff" stroke="#0000ff" stroke-width="0.9"/>
<path d="M353.50 230.09L355.55 234.49L351.45 234.49Z" fill="#fff" stroke="#0000ff" stroke-width="0.9"/>
<path d="M213.50 316.07L227.50 298.41L239.54 285.38L241.50 284.29L255.50 277.33L269.50 270.76L283.50 264.59L297.50 258.80L311.50 253.41L325.50 248.41L339.50 243.80L353.50 239.58" stroke="#008000" stroke-width="1.4" fill="none" stroke-linejoin="round"/>
<circle cx="213.50" cy="316.07" r="2.0" fill="#fff" stroke="#008000" stroke-width="0.9"/>
<circle cx="227.50" cy="298.41" r="2.0" fill="#fff" stroke="#008000" stroke-width="0.9"/>
<circle cx="239.54" cy="285.38" r="2.0" fill="#fff" stroke="#008000" stroke-width="0.9"/>
<circle cx="241.50" cy="284.29" r="2.0" fill="#fff" stroke="#008000" stroke-width="0.9"/>
<circle cx="255.50" cy="277.33" r="2.0" fill="#fff" stroke="#008000" stroke-width="0.9"/>
<circle cx="269.50" cy="270.76" r="2.0" fill="#fff" stroke="#008000" stroke-width="0.9"/>
<circle cx="283.50" cy="264.59" r="2.0" fill="#fff" stroke="#008000" stroke-width="0.9"/>
<circle cx="297.50" cy="258.80" r="2.0" fill="#fff" stroke="#008000" stroke-width="0.9"/>
<circle cx="311.50" cy="253.41" r="2.0" fill="#fff" stroke="#008000" stroke-width="0.9"/>
<circle cx="325.50" cy="248.41" r="2.0" fill="#fff" stroke="#008000" stroke-width="0.9"/>
<circle cx="339.50" cy="243.80" r="2.0" fill="#fff" stroke="#008000" stroke-width="0.9"/>
<circle cx="353.50" cy="239.58" r="2.0" fill="#fff" stroke="#008000" stroke-width="0.9"/>
<rect x="290.50" y="293.50" width="76.20" height="53" fill="#fff"/>
<path d="M297.40 299.50H316.20" stroke="#ff0000" stroke-width="1.4"/>
<g transform="translate(306.90 299.50) scale(0.95)"><rect x="-1.75" y="-1.75" width="3.5" height="3.5" fill="#fff" stroke="#ff0000" stroke-width="0.9"/></g>
<text x="318.70" y="302.50">R1224yd(Z)</text>
<path d="M297.40 310.00H316.20" stroke="#111" stroke-width="1.5999999999999999"/>
<g transform="translate(306.90 310.00) scale(0.95)"><circle cx="0.00" cy="0.00" r="2.0" fill="#fff" stroke="#111" stroke-width="0.9"/></g>
<text x="318.70" y="313.00">R1233zd(E)</text>
<path d="M297.40 320.50H316.20" stroke="#0000ff" stroke-width="1.4"/>
<g transform="translate(306.90 320.50) scale(0.95)"><path d="M0.00 -2.50L2.05 1.90L-2.05 1.90Z" fill="#fff" stroke="#0000ff" stroke-width="0.9"/></g>
<text x="318.70" y="323.50">R1336mzz(Z)</text>
<path d="M297.40 331.00H316.20" stroke="#ff00ff" stroke-width="1.4"/>
<g transform="translate(306.90 331.00) scale(0.95)"><path d="M0.00 2.50L2.05 -1.90L-2.05 -1.90Z" fill="#fff" stroke="#ff00ff" stroke-width="0.9"/></g>
<text x="318.70" y="334.00">R601a</text>
<path d="M297.40 341.50H316.20" stroke="#008000" stroke-width="1.4"/>
<g transform="translate(306.90 341.50) scale(0.95)"><circle cx="0.00" cy="0.00" r="2.0" fill="#fff" stroke="#008000" stroke-width="0.9"/></g>
<text x="318.70" y="344.50">R601</text>
<text x="202.00" y="222.20" textLength="61.6" lengthAdjust="spacingAndGlyphs">(b2) ARIT = 70°C</text>
<path d="M199.50 348.30h2.8M199.50 338.59h1.6M199.50 328.89h2.8M199.50 319.18h1.6M199.50 309.47h2.8M199.50 299.76h1.6M199.50 290.06h2.8M199.50 280.35h1.6M199.50 270.64h2.8M199.50 260.94h1.6M199.50 251.23h2.8M199.50 241.52h1.6M199.50 231.81h2.8M199.50 222.11h1.6M199.50 212.40h2.8M213.50 348.3v-2.8M241.50 348.3v-2.8M269.50 348.3v-2.8M297.50 348.3v-2.8M325.50 348.3v-2.8M353.50 348.3v-2.8" stroke="#444" stroke-width="1" fill="none"/>
<text x="213.50" y="357.30" text-anchor="middle">100</text>
<text x="241.50" y="357.30" text-anchor="middle">110</text>
<text x="269.50" y="357.30" text-anchor="middle">120</text>
<text x="297.50" y="357.30" text-anchor="middle">130</text>
<text x="325.50" y="357.30" text-anchor="middle">140</text>
<text x="353.50" y="357.30" text-anchor="middle">150</text>
<path d="M381.40 212.4V348.3M409.35 212.4V348.3M437.30 212.4V348.3M465.25 212.4V348.3M493.20 212.4V348.3M521.15 212.4V348.3M367.42 328.89H534.80M367.42 309.47H534.80M367.42 290.06H534.80M367.42 270.64H534.80M367.42 251.23H534.80M367.42 231.81H534.80" stroke="#f4f4f4" stroke-width="0.9" fill="none"/>
<path d="M381.40 345.00L395.38 324.42L409.35 306.95L423.32 291.61L437.30 278.41L451.27 266.76L457.14 262.42" stroke="#ff0000" stroke-width="0.6" fill="none" stroke-linejoin="round"/>
<path d="M457.14 262.42L465.25 256.43L479.22 246.96L493.20 239.46L499.07 236.53L507.17 232.68L521.15 227.93" stroke="#ff0000" stroke-width="1.4" fill="none" stroke-linejoin="round"/>
<g transform="translate(381.40 345.00) scale(0.82)"><rect x="-1.75" y="-1.75" width="3.5" height="3.5" fill="#fff" stroke="#ff0000" stroke-width="0.9"/></g>
<g transform="translate(395.38 324.42) scale(0.82)"><rect x="-1.75" y="-1.75" width="3.5" height="3.5" fill="#fff" stroke="#ff0000" stroke-width="0.9"/></g>
<g transform="translate(409.35 306.95) scale(0.82)"><rect x="-1.75" y="-1.75" width="3.5" height="3.5" fill="#fff" stroke="#ff0000" stroke-width="0.9"/></g>
<g transform="translate(423.32 291.61) scale(0.82)"><rect x="-1.75" y="-1.75" width="3.5" height="3.5" fill="#fff" stroke="#ff0000" stroke-width="0.9"/></g>
<g transform="translate(437.30 278.41) scale(0.82)"><rect x="-1.75" y="-1.75" width="3.5" height="3.5" fill="#fff" stroke="#ff0000" stroke-width="0.9"/></g>
<g transform="translate(451.27 266.76) scale(0.82)"><rect x="-1.75" y="-1.75" width="3.5" height="3.5" fill="#fff" stroke="#ff0000" stroke-width="0.9"/></g>
<rect x="463.50" y="254.68" width="3.5" height="3.5" fill="#fff" stroke="#ff0000" stroke-width="0.9"/>
<rect x="477.47" y="245.21" width="3.5" height="3.5" fill="#fff" stroke="#ff0000" stroke-width="0.9"/>
<rect x="491.45" y="237.71" width="3.5" height="3.5" fill="#fff" stroke="#ff0000" stroke-width="0.9"/>
<rect x="497.32" y="234.78" width="3.5" height="3.5" fill="#fff" stroke="#ff0000" stroke-width="0.9"/>
<rect x="505.42" y="230.93" width="3.5" height="3.5" fill="#fff" stroke="#ff0000" stroke-width="0.9"/>
<rect x="519.40" y="226.18" width="3.5" height="3.5" fill="#fff" stroke="#ff0000" stroke-width="0.9"/>
<path d="M381.40 345.00L395.38 324.42L409.35 306.95L423.32 291.61L437.30 278.41L451.27 266.76L457.14 262.42" stroke="#111" stroke-width="0.6" fill="none" stroke-linejoin="round"/>
<path d="M457.14 262.42L465.25 256.43L479.22 246.96L480.34 246.36L493.20 240.54L507.17 235.40L521.15 230.65" stroke="#111" stroke-width="1.4" fill="none" stroke-linejoin="round"/>
<circle cx="465.25" cy="256.43" r="2.0" fill="#fff" stroke="#111" stroke-width="0.9"/>
<circle cx="479.22" cy="246.96" r="2.0" fill="#fff" stroke="#111" stroke-width="0.9"/>
<circle cx="480.34" cy="246.36" r="2.0" fill="#fff" stroke="#111" stroke-width="0.9"/>
<circle cx="493.20" cy="240.54" r="2.0" fill="#fff" stroke="#111" stroke-width="0.9"/>
<circle cx="507.17" cy="235.40" r="2.0" fill="#fff" stroke="#111" stroke-width="0.9"/>
<circle cx="521.15" cy="230.65" r="2.0" fill="#fff" stroke="#111" stroke-width="0.9"/>
<path d="M381.40 345.00L395.38 324.42L409.35 306.95L423.32 291.61L437.30 278.41L451.27 266.76L457.14 262.42" stroke="#ff00ff" stroke-width="0.6" fill="none" stroke-linejoin="round"/>
<path d="M457.14 262.42L460.22 260.15L465.25 257.23L479.22 251.80L493.20 246.76L507.17 242.11L521.15 237.83" stroke="#ff00ff" stroke-width="1.4" fill="none" stroke-linejoin="round"/>
<g transform="translate(381.40 345.00) scale(0.82)"><path d="M0.00 2.50L2.05 -1.90L-2.05 -1.90Z" fill="#fff" stroke="#ff00ff" stroke-width="0.9"/></g>
<g transform="translate(395.38 324.42) scale(0.82)"><path d="M0.00 2.50L2.05 -1.90L-2.05 -1.90Z" fill="#fff" stroke="#ff00ff" stroke-width="0.9"/></g>
<g transform="translate(409.35 306.95) scale(0.82)"><path d="M0.00 2.50L2.05 -1.90L-2.05 -1.90Z" fill="#fff" stroke="#ff00ff" stroke-width="0.9"/></g>
<g transform="translate(423.32 291.61) scale(0.82)"><path d="M0.00 2.50L2.05 -1.90L-2.05 -1.90Z" fill="#fff" stroke="#ff00ff" stroke-width="0.9"/></g>
<g transform="translate(437.30 278.41) scale(0.82)"><path d="M0.00 2.50L2.05 -1.90L-2.05 -1.90Z" fill="#fff" stroke="#ff00ff" stroke-width="0.9"/></g>
<g transform="translate(451.27 266.76) scale(0.82)"><path d="M0.00 2.50L2.05 -1.90L-2.05 -1.90Z" fill="#fff" stroke="#ff00ff" stroke-width="0.9"/></g>
<path d="M460.22 262.65L462.27 258.25L458.17 258.25Z" fill="#fff" stroke="#ff00ff" stroke-width="0.9"/>
<path d="M465.25 259.73L467.30 255.33L463.20 255.33Z" fill="#fff" stroke="#ff00ff" stroke-width="0.9"/>
<path d="M479.22 254.30L481.27 249.90L477.17 249.90Z" fill="#fff" stroke="#ff00ff" stroke-width="0.9"/>
<path d="M493.20 249.26L495.25 244.86L491.15 244.86Z" fill="#fff" stroke="#ff00ff" stroke-width="0.9"/>
<path d="M507.17 244.61L509.22 240.21L505.12 240.21Z" fill="#fff" stroke="#ff00ff" stroke-width="0.9"/>
<path d="M521.15 240.33L523.20 235.93L519.10 235.93Z" fill="#fff" stroke="#ff00ff" stroke-width="0.9"/>
<path d="M381.40 345.00L395.38 324.42L409.35 306.95L423.32 291.61L437.30 278.41L451.27 266.76L457.14 262.42" stroke="#0000ff" stroke-width="0.6" fill="none" stroke-linejoin="round"/>
<path d="M457.14 262.42L465.25 256.43L476.15 249.04L479.22 247.22L493.20 241.94L507.17 237.06L521.15 232.59" stroke="#0000ff" stroke-width="1.4" fill="none" stroke-linejoin="round"/>
<g transform="translate(381.40 345.00) scale(0.82)"><path d="M0.00 -2.50L2.05 1.90L-2.05 1.90Z" fill="#fff" stroke="#0000ff" stroke-width="0.9"/></g>
<g transform="translate(395.38 324.42) scale(0.82)"><path d="M0.00 -2.50L2.05 1.90L-2.05 1.90Z" fill="#fff" stroke="#0000ff" stroke-width="0.9"/></g>
<g transform="translate(409.35 306.95) scale(0.82)"><path d="M0.00 -2.50L2.05 1.90L-2.05 1.90Z" fill="#fff" stroke="#0000ff" stroke-width="0.9"/></g>
<g transform="translate(423.32 291.61) scale(0.82)"><path d="M0.00 -2.50L2.05 1.90L-2.05 1.90Z" fill="#fff" stroke="#0000ff" stroke-width="0.9"/></g>
<g transform="translate(437.30 278.41) scale(0.82)"><path d="M0.00 -2.50L2.05 1.90L-2.05 1.90Z" fill="#fff" stroke="#0000ff" stroke-width="0.9"/></g>
<g transform="translate(451.27 266.76) scale(0.82)"><path d="M0.00 -2.50L2.05 1.90L-2.05 1.90Z" fill="#fff" stroke="#0000ff" stroke-width="0.9"/></g>
<path d="M465.25 253.93L467.30 258.33L463.20 258.33Z" fill="#fff" stroke="#0000ff" stroke-width="0.9"/>
<path d="M476.15 246.54L478.20 250.94L474.10 250.94Z" fill="#fff" stroke="#0000ff" stroke-width="0.9"/>
<path d="M479.22 244.72L481.27 249.12L477.17 249.12Z" fill="#fff" stroke="#0000ff" stroke-width="0.9"/>
<path d="M493.20 239.44L495.25 243.84L491.15 243.84Z" fill="#fff" stroke="#0000ff" stroke-width="0.9"/>
<path d="M507.17 234.56L509.22 238.96L505.12 238.96Z" fill="#fff" stroke="#0000ff" stroke-width="0.9"/>
<path d="M521.15 230.09L523.20 234.49L519.10 234.49Z" fill="#fff" stroke="#0000ff" stroke-width="0.9"/>
<path d="M381.40 345.00L395.38 324.42L409.35 306.95L423.32 291.61L437.30 278.41L451.27 266.76L457.14 262.42L465.25 258.80L479.22 253.41L493.20 248.41L507.17 243.80L521.15 239.58" stroke="#008000" stroke-width="1.4" fill="none" stroke-linejoin="round"/>
<circle cx="381.40" cy="345.00" r="2.0" fill="#fff" stroke="#008000" stroke-width="0.9"/>
<circle cx="395.38" cy="324.42" r="2.0" fill="#fff" stroke="#008000" stroke-width="0.9"/>
<circle cx="409.35" cy="306.95" r="2.0" fill="#fff" stroke="#008000" stroke-width="0.9"/>
<circle cx="423.32" cy="291.61" r="2.0" fill="#fff" stroke="#008000" stroke-width="0.9"/>
<circle cx="437.30" cy="278.41" r="2.0" fill="#fff" stroke="#008000" stroke-width="0.9"/>
<circle cx="451.27" cy="266.76" r="2.0" fill="#fff" stroke="#008000" stroke-width="0.9"/>
<circle cx="457.14" cy="262.42" r="2.0" fill="#fff" stroke="#008000" stroke-width="0.9"/>
<circle cx="465.25" cy="258.80" r="2.0" fill="#fff" stroke="#008000" stroke-width="0.9"/>
<circle cx="479.22" cy="253.41" r="2.0" fill="#fff" stroke="#008000" stroke-width="0.9"/>
<circle cx="493.20" cy="248.41" r="2.0" fill="#fff" stroke="#008000" stroke-width="0.9"/>
<circle cx="507.17" cy="243.80" r="2.0" fill="#fff" stroke="#008000" stroke-width="0.9"/>
<circle cx="521.15" cy="239.58" r="2.0" fill="#fff" stroke="#008000" stroke-width="0.9"/>
<rect x="456.50" y="293.50" width="76.30" height="53" fill="#fff"/>
<path d="M461.50 299.50H480.30" stroke="#ff0000" stroke-width="1.4"/>
<g transform="translate(471.00 299.50) scale(0.95)"><rect x="-1.75" y="-1.75" width="3.5" height="3.5" fill="#fff" stroke="#ff0000" stroke-width="0.9"/></g>
<text x="484.70" y="302.50">R1224yd(Z)</text>
<path d="M461.50 310.00H480.30" stroke="#111" stroke-width="1.5999999999999999"/>
<g transform="translate(471.00 310.00) scale(0.95)"><circle cx="0.00" cy="0.00" r="2.0" fill="#fff" stroke="#111" stroke-width="0.9"/></g>
<text x="484.70" y="313.00">R1233zd(E)</text>
<path d="M461.50 320.50H480.30" stroke="#0000ff" stroke-width="1.4"/>
<g transform="translate(471.00 320.50) scale(0.95)"><path d="M0.00 -2.50L2.05 1.90L-2.05 1.90Z" fill="#fff" stroke="#0000ff" stroke-width="0.9"/></g>
<text x="484.70" y="323.50">R1336mzz(Z)</text>
<path d="M461.50 331.00H480.30" stroke="#ff00ff" stroke-width="1.4"/>
<g transform="translate(471.00 331.00) scale(0.95)"><path d="M0.00 2.50L2.05 -1.90L-2.05 -1.90Z" fill="#fff" stroke="#ff00ff" stroke-width="0.9"/></g>
<text x="484.70" y="334.00">R601a</text>
<path d="M461.50 341.50H480.30" stroke="#008000" stroke-width="1.4"/>
<g transform="translate(471.00 341.50) scale(0.95)"><circle cx="0.00" cy="0.00" r="2.0" fill="#fff" stroke="#008000" stroke-width="0.9"/></g>
<text x="484.70" y="344.50">R601</text>
<text x="369.92" y="222.20" textLength="61.6" lengthAdjust="spacingAndGlyphs">(b3) ARIT = 75°C</text>
<path d="M367.42 348.30h2.8M534.80 348.30h-2.2399999999999998M367.42 338.59h1.6M534.80 338.59h-1.2800000000000002M367.42 328.89h2.8M534.80 328.89h-2.2399999999999998M367.42 319.18h1.6M534.80 319.18h-1.2800000000000002M367.42 309.47h2.8M534.80 309.47h-2.2399999999999998M367.42 299.76h1.6M534.80 299.76h-1.2800000000000002M367.42 290.06h2.8M534.80 290.06h-2.2399999999999998M367.42 280.35h1.6M534.80 280.35h-1.2800000000000002M367.42 270.64h2.8M534.80 270.64h-2.2399999999999998M367.42 260.94h1.6M534.80 260.94h-1.2800000000000002M367.42 251.23h2.8M534.80 251.23h-2.2399999999999998M367.42 241.52h1.6M534.80 241.52h-1.2800000000000002M367.42 231.81h2.8M534.80 231.81h-2.2399999999999998M367.42 222.11h1.6M534.80 222.11h-1.2800000000000002M367.42 212.40h2.8M534.80 212.40h-2.2399999999999998M381.40 348.3v-2.8M409.35 348.3v-2.8M437.30 348.3v-2.8M465.25 348.3v-2.8M493.20 348.3v-2.8M521.15 348.3v-2.8" stroke="#444" stroke-width="1" fill="none"/>
<text x="381.40" y="357.30" text-anchor="middle">100</text>
<text x="409.35" y="357.30" text-anchor="middle">110</text>
<text x="437.30" y="357.30" text-anchor="middle">120</text>
<text x="465.25" y="357.30" text-anchor="middle">130</text>
<text x="493.20" y="357.30" text-anchor="middle">140</text>
<text x="521.15" y="357.30" text-anchor="middle">150</text>
<rect x="31.90" y="212.4" width="502.90" height="135.90" fill="none" stroke="#444" stroke-width="1.0"/>
<path d="M199.50 212.4V348.3M367.42 212.4V348.3" stroke="#444" stroke-width="1.0"/>
<text  x="29.50" y="353.75" text-anchor="end">45</text>
<text x="538.00" y="350.65">45</text>
<text  x="29.50" y="334.34" text-anchor="end">50</text>
<text x="538.00" y="331.24">50</text>
<text  x="29.50" y="314.92" text-anchor="end">55</text>
<text x="538.00" y="311.82">55</text>
<text  x="29.50" y="295.51" text-anchor="end">60</text>
<text x="538.00" y="292.41">60</text>
<text  x="29.50" y="276.09" text-anchor="end">65</text>
<text x="538.00" y="272.99">65</text>
<text  x="29.50" y="256.68" text-anchor="end">70</text>
<text x="538.00" y="253.58">70</text>
<text  x="29.50" y="237.26" text-anchor="end">75</text>
<text x="538.00" y="234.16">75</text>
<text  x="29.50" y="217.85" text-anchor="end">80</text>
<text x="538.00" y="214.75">80</text>
<text transform="translate(10.8 357.20) rotate(-90)" textLength="151.5" lengthAdjust="spacing">Geothermal exergy utilization efficiency (%)</text>
<text x="226.2" y="376.80" font-size="10.5" textLength="118.8" lengthAdjust="spacing">Brine inlet temperature (°C)</text>
<text x="254.9" y="199.8" font-size="12.2" textLength="42.3" lengthAdjust="spacing">(<tspan font-weight="bold">a</tspan>) ORC</text>
<text x="249.7" y="395.1" font-size="12.2" textLength="51.2" lengthAdjust="spacing">(<tspan font-weight="bold">b</tspan>) RORC</text>
</svg>
</body></html>
